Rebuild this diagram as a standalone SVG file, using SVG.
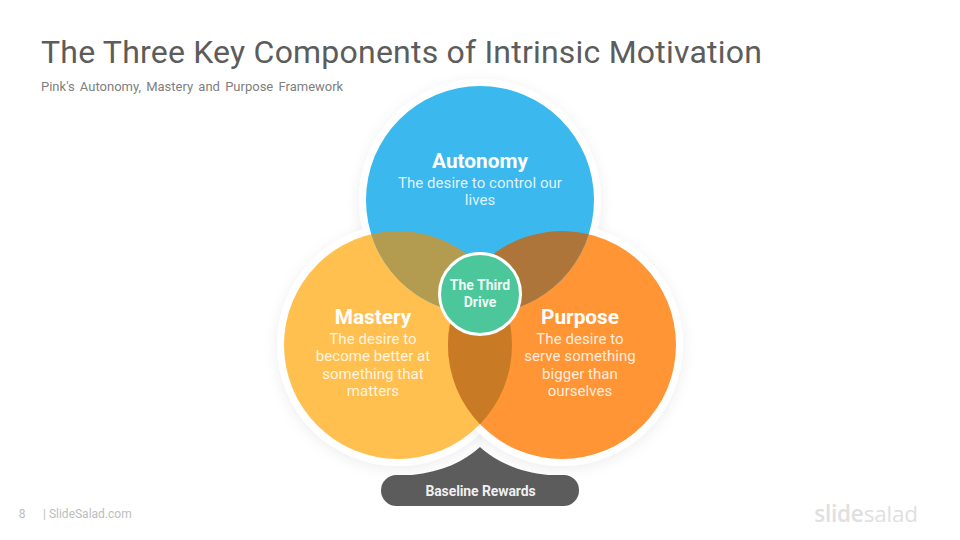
<svg xmlns="http://www.w3.org/2000/svg" width="960" height="540" viewBox="0 0 960 540">
<style>
text{font-family:Roboto,"Liberation Sans",sans-serif;text-anchor:middle}
.h{font-size:20.800px;font-weight:700;fill:#fff}
.b{font-size:15px;letter-spacing:.05px;fill:#fff;fill-opacity:.85}
.c{font-size:14px;font-weight:700;fill:#fff;fill-opacity:.92}
.halo{fill:#fff;filter:url(#s)}
</style>
<defs>
<filter id="s" x="-20%" y="-20%" width="140%" height="140%"><feDropShadow dx="0" dy="3" stdDeviation="7" flood-color="#000" flood-opacity=".07"/></filter>
</defs>
<rect width="960" height="540" fill="#fff"/>
<g id="header">
<text x="41" y="63" style="text-anchor:start;font-size:32px;letter-spacing:.21px;fill:#5c5c5c">The Three Key Components of Intrinsic Motivation</text>
<text x="41" y="91" style="text-anchor:start;font-size:13px;word-spacing:2px;fill:#808080">Pink's Autonomy, Mastery and Purpose Framework</text>
</g>
<g id="baseline">
<path d="M480 447C495 461 518 472 548 475H564A15 15 0 0 1 579 490.500A15.500 15.500 0 0 1 563.500 506H396.500A15.500 15.500 0 0 1 381 490.500A15.500 15.500 0 0 1 396.500 475H412C442 472 465 461 480 447Z" fill="#5c5c5c"/>
<text x="480.500" y="496" style="font-size:14px;font-weight:700;letter-spacing:-.1px;fill:#fff;fill-opacity:.92">Baseline Rewards</text>
</g>
<g id="halos">
<circle class="halo" cx="480" cy="200" r="121"/>
<circle class="halo" cx="398" cy="345" r="121"/>
<circle class="halo" cx="562" cy="345" r="121"/>
</g>
<g id="connectors"/>
<g id="mastery">
<circle cx="398" cy="345" r="114" fill="#FFC04F"/>
</g>
<g id="purpose">
<circle cx="562" cy="345" r="114" fill="#FF9535"/>
</g>
<g id="autonomy">
<circle cx="480" cy="200" r="114" fill="#3BB8EE"/>
</g>
<g id="overlaps">
<path d="M371.300 234.200A114 114 0 0 0 506.700 310.800A114 114 0 0 0 371.300 234.200Z" fill="#B39C50"/>
<path d="M588.700 234.200A114 114 0 0 1 453.300 310.800A114 114 0 0 1 588.700 234.200Z" fill="#AD7539"/>
<path d="M480 265.800A114 114 0 0 1 480 424.200A114 114 0 0 1 480 265.800Z" fill="#C97A25"/>
</g>
<g id="autonomy-text">
<text class="h" x="480" y="168">Autonomy</text>
<text class="b" x="480" y="188">The desire to control our</text>
<text class="b" x="480" y="205">lives</text>
</g>
<g id="mastery-text">
<text class="h" x="373" y="324">Mastery</text>
<text class="b" x="373" y="344">The desire to</text>
<text class="b" x="373" y="361">become better at</text>
<text class="b" x="373" y="379">something that</text>
<text class="b" x="373" y="396">matters</text>
</g>
<g id="purpose-text">
<text class="h" x="580" y="324">Purpose</text>
<text class="b" x="580" y="344">The desire to</text>
<text class="b" x="580" y="361">serve something</text>
<text class="b" x="580" y="379">bigger than</text>
<text class="b" x="580" y="396">ourselves</text>
</g>
<g id="third-drive">
<circle cx="480" cy="294" r="40.500" fill="#4CC79B" stroke="#fff" stroke-width="3"/>
<text class="c" x="480" y="290">The Third</text>
<text class="c" x="480" y="307">Drive</text>
</g>
<g id="footer">
<text x="22" y="518" style="font-size:12px;fill:#bdbdbd">8</text>
<text x="43" y="518" style="text-anchor:start;font-size:12px;fill:#bdbdbd">| SlideSalad.com</text>
<text x="866" y="522" style="font-family:'Open Sans',sans-serif;font-size:22.500px;font-weight:600;letter-spacing:-.2px;fill:#e0e0e0">slide<tspan font-weight="400">salad</tspan></text>
</g>
</svg>
